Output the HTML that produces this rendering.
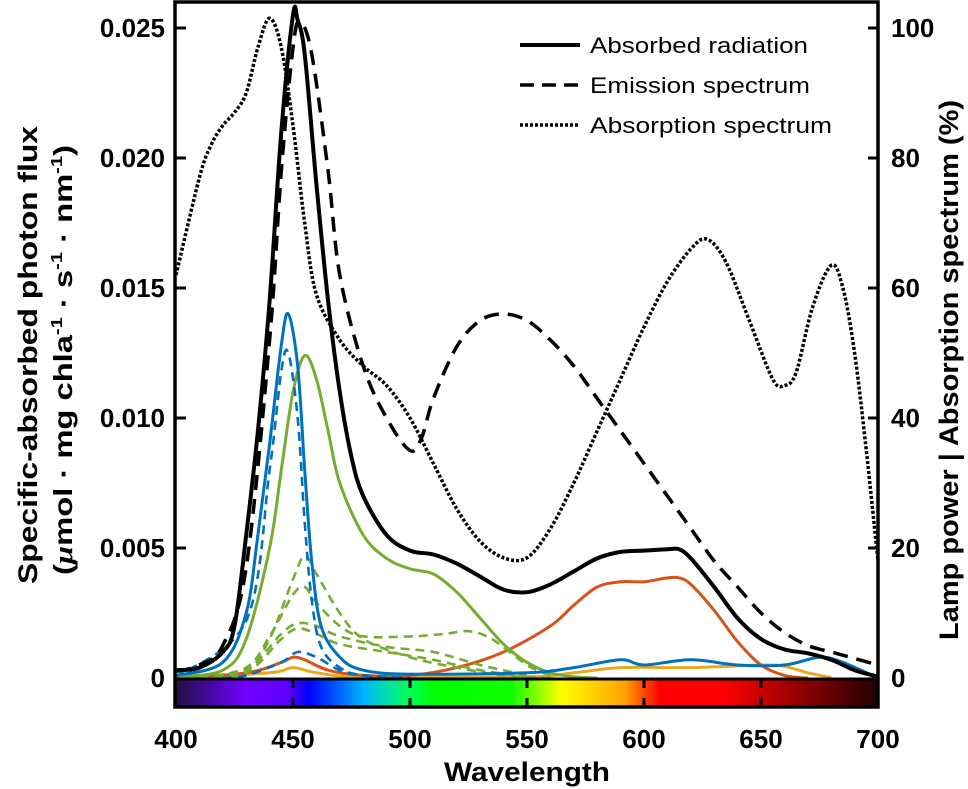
<!DOCTYPE html>
<html><head><meta charset="utf-8"><style>
body{margin:0;background:#fff}
svg{display:block;font-family:"Liberation Sans",sans-serif}
.tk{font-size:26px;font-weight:bold}
</style></head><body>
<svg id="chart" width="968" height="789" viewBox="0 0 968 789" xmlns="http://www.w3.org/2000/svg">
<defs>
<linearGradient id="spec" x1="0" x2="1" y1="0" y2="0">
<stop offset="0" stop-color="#201040"/>
<stop offset="0.1" stop-color="#7000ff"/>
<stop offset="0.16" stop-color="#6000ff"/>
<stop offset="0.19" stop-color="#0000ff"/>
<stop offset="0.27" stop-color="#00b8ff"/>
<stop offset="0.33" stop-color="#00ff60"/>
<stop offset="0.37" stop-color="#00ff00"/>
<stop offset="0.48" stop-color="#10ff00"/>
<stop offset="0.55" stop-color="#ffff00"/>
<stop offset="0.64" stop-color="#ffa000"/>
<stop offset="0.69" stop-color="#ff0000"/>
<stop offset="0.78" stop-color="#ff0000"/>
<stop offset="1" stop-color="#200000"/>
</linearGradient>
</defs>
<g id="plot"></g>
<rect x="175" y="679" width="703" height="28" fill="url(#spec)" stroke="#000" stroke-width="3"/>
<g id="ticks"></g>
<rect x="175" y="2" width="703" height="705" fill="none" stroke="#000" stroke-width="3.5"/>
<text x="527" y="781" text-anchor="middle" font-size="27" font-weight="bold" textLength="166" lengthAdjust="spacingAndGlyphs">Wavelength</text>
<text transform="translate(37,355) rotate(-90)" text-anchor="middle" font-size="27" font-weight="bold" textLength="458" lengthAdjust="spacingAndGlyphs">Specific-absorbed photon flux</text>
<text transform="translate(72,360) rotate(-90)" text-anchor="middle" font-size="26" font-weight="bold" textLength="430" lengthAdjust="spacingAndGlyphs">(<tspan font-style="italic" font-family="Liberation Serif">μ</tspan>mol · mg chla<tspan dy="-10" font-size="16">-1</tspan><tspan dy="10"> · s</tspan><tspan dy="-10" font-size="16">-1</tspan><tspan dy="10"> · nm</tspan><tspan dy="-10" font-size="16">-1</tspan><tspan dy="10">)</tspan></text>
<text transform="translate(958,370) rotate(-90)" text-anchor="middle" font-size="27" font-weight="bold" textLength="540" lengthAdjust="spacingAndGlyphs">Lamp power | Absorption spectrum (%)</text>
<g font-size="22">
<line x1="520" x2="580" y1="45" y2="45" stroke="#000" stroke-width="4"/>
<text x="590" y="53" textLength="218" lengthAdjust="spacingAndGlyphs">Absorbed radiation</text>
<line x1="520" x2="580" y1="85" y2="85" stroke="#000" stroke-width="3.5" stroke-dasharray="14,8"/>
<text x="590" y="93" textLength="220" lengthAdjust="spacingAndGlyphs">Emission spectrum</text>
<line x1="520" x2="580" y1="125" y2="125" stroke="#000" stroke-width="3.5" stroke-dasharray="3,2"/>
<text x="590" y="133" textLength="242" lengthAdjust="spacingAndGlyphs">Absorption spectrum</text>
</g>
</svg>
<script>
const xTicks=[400,450,500,550,600,650,700];
const leftTicks=[0,0.005,0.010,0.015,0.020,0.025];
const leftTickLabels=["0","0.005","0.010","0.015","0.020","0.025"];
const rightTicks=[0,20,40,60,80,100];
const absorbedW=[400,410,420,425,430,435,440,445,450,452,455,460,465,470,475,480,490,500,510,520,530,540,550,560,570,580,590,600,610,615,620,630,640,650,660,670,680,690,700];
const absorbedV=[0.3,0.4,1.0,2,5.5,9.5,14.5,21,25.5,25.3,24,19,14.5,11,8.5,7,5.5,4.9,4.75,4.4,3.9,3.4,3.3,3.6,4.1,4.6,4.85,4.9,4.95,4.95,4.6,3.5,2.3,1.5,1.1,0.95,0.7,0.3,0.05];
const emissionW=[400,410,420,430,440,445,450,453,458,465,470,480,490,500,505,510,520,530,540,550,560,570,580,590,600,610,620,630,640,650,660,670,680,690,700];
const emissionV=[1,2,5,17,52,78,97,101,96,78,62,48,40,35,37,43,51,55,56,55,52,48,43,38,33,28,23,18,14,10,7,5,4,3,2];
const absorptionW=[400,410,415,420,425,430,435,440,445,450,455,460,470,480,490,500,510,520,530,540,550,560,570,580,590,600,610,620,627,635,645,655,660,665,672,680,685,690,695,700];
const absorptionV=[62,77,82,85,87,90,97,101.5,97,85,70,59,52,48,45,40,33,26,21,18.5,18.5,23,30,38,46,54,61,66,67.5,64,55,46,45,47,57,63.5,60,50,35,18];
const blueW=[400,420,430,435,440,445,448,452,455,458,462,470,480,500,550,570,590,600,620,640,660,675,685,700];
const blueV=[0.1,0.6,2.5,5.5,9,12.8,14,12,8,4.5,2,0.8,0.3,0.15,0.2,0.4,0.7,0.5,0.7,0.5,0.5,0.8,0.6,0];
const blueDashW=[400,430,440,445,448,452,455,458,462,470,480,500];
const blueDashV=[0.05,2.2,8,11.8,12.5,10,6,3,1.2,0.4,0.1,0];
const blueDash2W=[420,430,445,452,460,470,480,500];
const blueDash2V=[0,0.1,0.6,1.0,0.8,0.3,0.1,0];
const greenW=[400,420,430,440,445,450,455,460,465,470,480,490,500,510,520,530,540,550,560,570,580];
const greenV=[0.05,0.3,1.5,5,8,11,12.4,11.5,9.5,7.5,5.5,4.6,4.2,4.0,3.3,2.3,1.3,0.6,0.2,0.05,0];
const g1W=[410,430,440,450,455,460,470,480,500,520,540,560];
const g1V=[0,0.3,1.5,3.8,4.7,4,2.5,1.5,0.8,0.4,0.1,0];
const g2W=[410,430,440,450,455,460,470,480,500,515,525,535,550,560];
const g2V=[0,0.4,1.6,3.2,3.5,2.9,2,1.6,1.6,1.7,1.8,1.5,0.5,0.1];
const g3W=[410,430,445,452,460,470,490,510,530,550];
const g3V=[0,0.3,1.7,2.1,2,1.6,1.2,1.0,0.5,0.1];
const g4W=[410,430,445,452,460,470,490,510,530,550];
const g4V=[0,0.2,1.5,1.9,1.7,1.3,1.0,0.7,0.3,0.05];
const redW=[400,430,445,450,455,465,480,500,520,540,560,570,580,590,600,610,615,620,630,640,650,660,670];
const redV=[0,0.2,0.6,0.8,0.7,0.3,0.1,0.1,0.4,1.0,2.0,2.8,3.5,3.7,3.7,3.85,3.85,3.6,2.6,1.4,0.5,0.1,0];
const yellowW=[400,440,450,460,480,550,570,590,620,650,660,670,680];
const yellowV=[0,0.2,0.4,0.2,0.05,0.05,0.2,0.4,0.4,0.5,0.45,0.2,0.02];

const NS="http://www.w3.org/2000/svg";
const px=w=>176+(w-400)*2.34;
const pyL=v=>678-v*26000;
const pyM=v=>pyL(v/1000);
const pyR=p=>678-p*6.5;
function pathD(W,V,fy){
  const P=W.map((w,i)=>[px(w),fy(V[i])]);
  let d="M"+P[0][0].toFixed(1)+","+P[0][1].toFixed(1);
  for(let i=0;i<P.length-1;i++){
    const p0=P[i-1]||P[i],p1=P[i],p2=P[i+1],p3=P[i+2]||P[i+1];
    const c1=[p1[0]+(p2[0]-p0[0])/6,p1[1]+(p2[1]-p0[1])/6];
    const c2=[p2[0]-(p3[0]-p1[0])/6,p2[1]-(p3[1]-p1[1])/6];
    d+="C"+c1.map(n=>n.toFixed(1))+" "+c2.map(n=>n.toFixed(1))+" "+p2.map(n=>n.toFixed(1));
  }
  return d;
}
const plot=document.getElementById('plot');
function addLine(name,W,V,fy,color,width,dash){
  const p=document.createElementNS(NS,'path');
  p.setAttribute('d',pathD(W,V,fy));
  p.setAttribute('fill','none');
  p.setAttribute('stroke',color);
  p.setAttribute('stroke-width',width);
  if(dash)p.setAttribute('stroke-dasharray',dash);
  
  
  plot.appendChild(p);
}
addLine('yellow-line',yellowW,yellowV,pyM,'#e8a820',3);
addLine('red-line',redW,redV,pyM,'#d95319',3);
addLine('green-dashed-1',g1W,g1V,pyM,'#77ac30',2.6,'9,6');
addLine('green-dashed-2',g2W,g2V,pyM,'#77ac30',2.6,'9,6');
addLine('green-dashed-3',g3W,g3V,pyM,'#77ac30',2.6,'9,6');
addLine('green-dashed-4',g4W,g4V,pyM,'#77ac30',2.6,'9,6');
addLine('green-line',greenW,greenV,pyM,'#77ac30',3);
addLine('blue-dashed-small',blueDash2W,blueDash2V,pyM,'#0072bd',2.6,'9,6');
addLine('blue-dashed-line',blueDashW,blueDashV,pyM,'#0072bd',2.6,'9,6');
addLine('blue-line',blueW,blueV,pyM,'#0072bd',3);
addLine('absorption-spectrum-line',absorptionW,absorptionV,pyR,'#000',3.5,'3,2');
addLine('emission-spectrum-line',emissionW,emissionV,pyR,'#000',3.5,'15,9');
addLine('absorbed-radiation-line',absorbedW,absorbedV,pyM,'#000',4);

const ticks=document.getElementById('ticks');
function mk(tag,attrs,txt){const e=document.createElementNS(NS,tag);for(const k in attrs)e.setAttribute(k,attrs[k]);if(txt!==undefined)e.textContent=txt;ticks.appendChild(e);return e;}
xTicks.forEach(w=>{
  if(w>400&&w<700){
    const t=mk('line',{x1:px(w),x2:px(w),y1:679,y2:688,stroke:'#000','stroke-width':3});
    
    
    const t2=mk('line',{x1:px(w),x2:px(w),y1:698,y2:707,stroke:'#000','stroke-width':3});
    
    
  }
  const l=mk('text',{x:px(w),y:748,'text-anchor':'middle','class':'tk'},String(w));
  
  
});
leftTicks.forEach((v,i)=>{
  const y=pyL(v);
  if(i>0){
    const t=mk('line',{x1:176,x2:186,y1:y,y2:y,stroke:'#000','stroke-width':3});
    
    
  }
  const l=mk('text',{x:165,y:y+9,'text-anchor':'end','class':'tk'},leftTickLabels[i]);
  
  
});
rightTicks.forEach((p,i)=>{
  const y=pyR(p);
  if(i>0){
    const t=mk('line',{x1:868,x2:878,y1:y,y2:y,stroke:'#000','stroke-width':3});
    
    
  }
  const l=mk('text',{x:891,y:y+9,'class':'tk'},String(p));
  
  
});
</script>
</body></html>
